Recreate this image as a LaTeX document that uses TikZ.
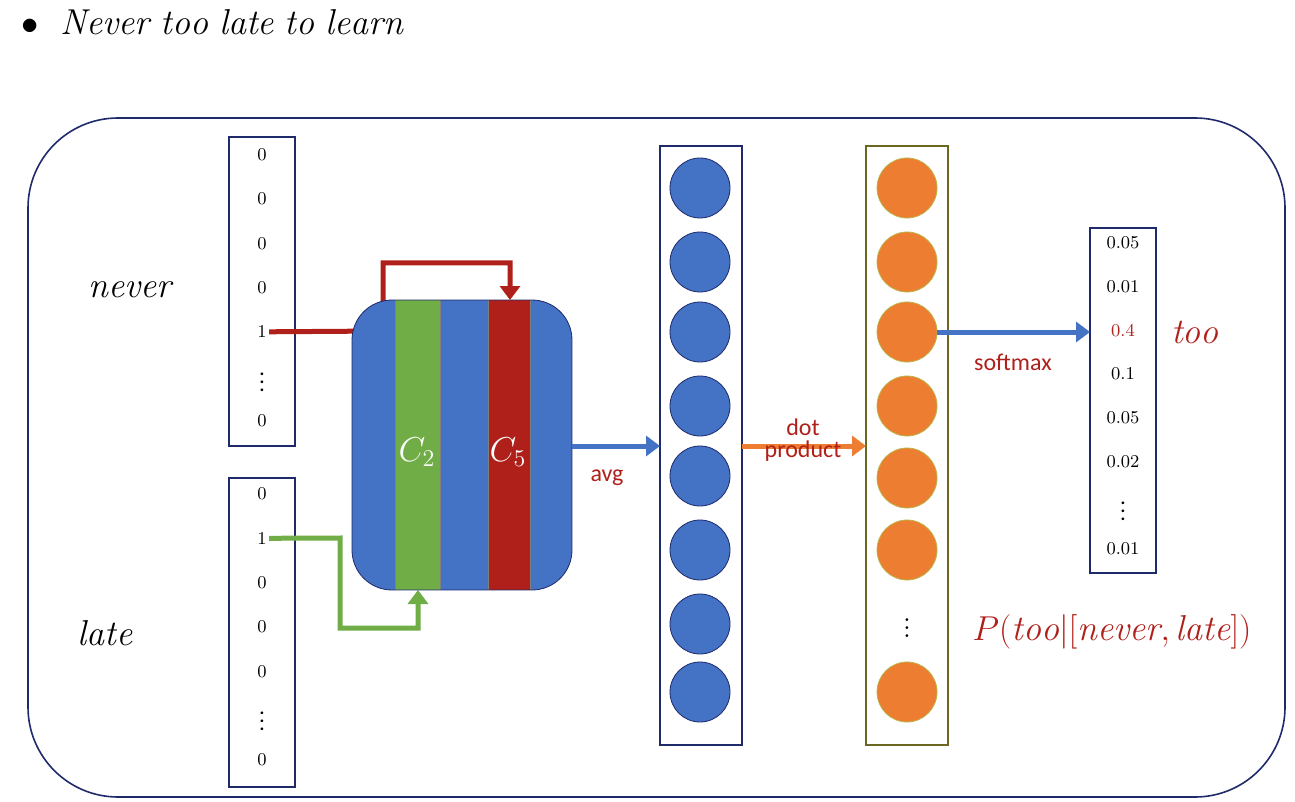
\documentclass[tikz,border=0pt]{standalone}
\usepackage{amsmath}
\usepackage{fontspec}
\setsansfont{Carlito}
\usetikzlibrary{arrows.meta}
\definecolor{pblue}{HTML}{4472C4}
\definecolor{pgreen}{HTML}{70AD47}
\definecolor{pred}{HTML}{B0201A}
\definecolor{porange}{HTML}{ED7D31}
\definecolor{pnavy}{HTML}{1F2A6B}

\begin{document}
\begin{tikzpicture}[x=0.5pt, y=-0.5pt,
    entry/.style={font=\sffamily\bfseries\small, inner sep=1pt},
    word/.style={font=\fontsize{18}{20}\selectfont},
    lbl/.style={text=pred},
    vec/.style={draw=pnavy, line width=0.8pt},
    ball/.style={circle, minimum size=30pt, inner sep=0pt}]
  \useasboundingbox (0,0) rectangle (1295,802);
  % title
  \node[anchor=west, font=\fontsize{18}{20}\selectfont] (title) at (14,22)
    {$\bullet$\ \ $\mathit{Never\ too\ late\ to\ learn}$};
  \draw[pnavy, line width=0.8pt, rounded corners=45pt] (28,118) rectangle (1285,797);
  % one-hot vectors
  \draw[vec] (229,137) rectangle (295,446);
  \draw[vec] (229,478) rectangle (295,787);
  \foreach \v [count=\i] in {0,0,0,0,1,\vdots,0}{
    \node[entry] (a\i) at (262,{155+44.2*(\i-1)}) {$\v$};
  }
  \foreach \v [count=\i] in {0,1,0,0,0,\vdots,0}{
    \node[entry] (b\i) at (262,{494+44.3*(\i-1)}) {$\v$};
  }
  \node[word] (never) at (130,290) {$\mathit{never}$};
  \node[word] (late) at (105,633) {$\mathit{late}$};
  % connectors into the embedding matrix (behind it)
  \coordinate (rt) at (510,300);
  \coordinate (gt) at (418,590);
  \draw[pred, line width=2.5pt, -{Triangle[length=7pt,width=10pt]}]
    (a5.east) -- (383,331) -- (383,263) -- (510,263) -- (rt);
  \draw[pgreen, line width=2.5pt, -{Triangle[length=7pt,width=10pt]}]
    (b2.east) -- (340,538) -- (340,628) -- (418,628) -- (gt);
  % embedding matrix
  \begin{scope}
    \clip[rounded corners=20pt] (352,300) rectangle (572,590);
    \fill[pblue] (352,300) rectangle (572,590);
    \fill[pgreen] (395,300) rectangle (440,590);
    \fill[pred] (488,300) rectangle (530,590);
    \draw[gray] (395,300) -- (395,590) (440,300) -- (440,590)
      (488,300) -- (488,590) (530,300) -- (530,590);
  \end{scope}
  \draw[pnavy, rounded corners=20pt] (352,300) rectangle (572,590);
  \node[white, word] (c2) at (417,452) {$C_2$};
  \node[white, word] (c5) at (508,452) {$C_5$};
  % hidden layer
  \draw[vec] (660,146) rectangle (742,745);
  \foreach \y [count=\i] in {188,262,332,406,476,550,624,692}{
    \node[ball, fill=pblue, draw=pnavy] (h\i) at (700,\y) {};
  }
  \draw[pblue, line width=2.5pt, -{Triangle[length=7pt,width=10pt]}]
    (572,446) -- (660,446) coordinate (hin);
  \node[font=\sffamily\large, lbl] (avg) at (607,478) {avg};
  % output embeddings
  \draw[draw=olive!70!black, line width=0.8pt] (866,146) rectangle (948,745);
  \foreach \y [count=\i] in {188,262,332,406,478,550,692}{
    \node[ball, fill=porange, draw=olive!60] (o\i) at (907,\y) {};
  }
  \node[font=\Large] (odots) at (907,622) {$\vdots$};
  \draw[porange, line width=2.5pt, -{Triangle[length=7pt,width=10pt]}]
    (742,446) -- (866,446);
  \node[font=\sffamily\large, lbl, align=center, inner sep=0pt] (dot) at (803,440)
    {dot\\[-3pt]product};
  % softmax output
  \draw[vec] (1090,228) rectangle (1156,573);
  \foreach \v [count=\i] in {0.05,0.01,0.4,0.1,0.05,0.02,\vdots,0.01}{
    \node[entry] (p\i) at (1123,{243+43.7*(\i-1)}) {$\v$};
  }
  \node[entry, fill=white, lbl] at (p3) {$0.4$};
  \draw[pblue, line width=2.5pt, -{Triangle[length=7pt,width=10pt]}]
    (o3.east) -- (1090,332);
  \node[font=\sffamily\large, lbl] (soft) at (1013,362) {softmax};
  \node[word, lbl] (too) at (1195,332) {$\mathit{too}$};
  \node[word, lbl] (prob) at (1112,632) {$P(\mathit{too}|[\mathit{never},\mathit{late}])$};
\end{tikzpicture}
\end{document}
